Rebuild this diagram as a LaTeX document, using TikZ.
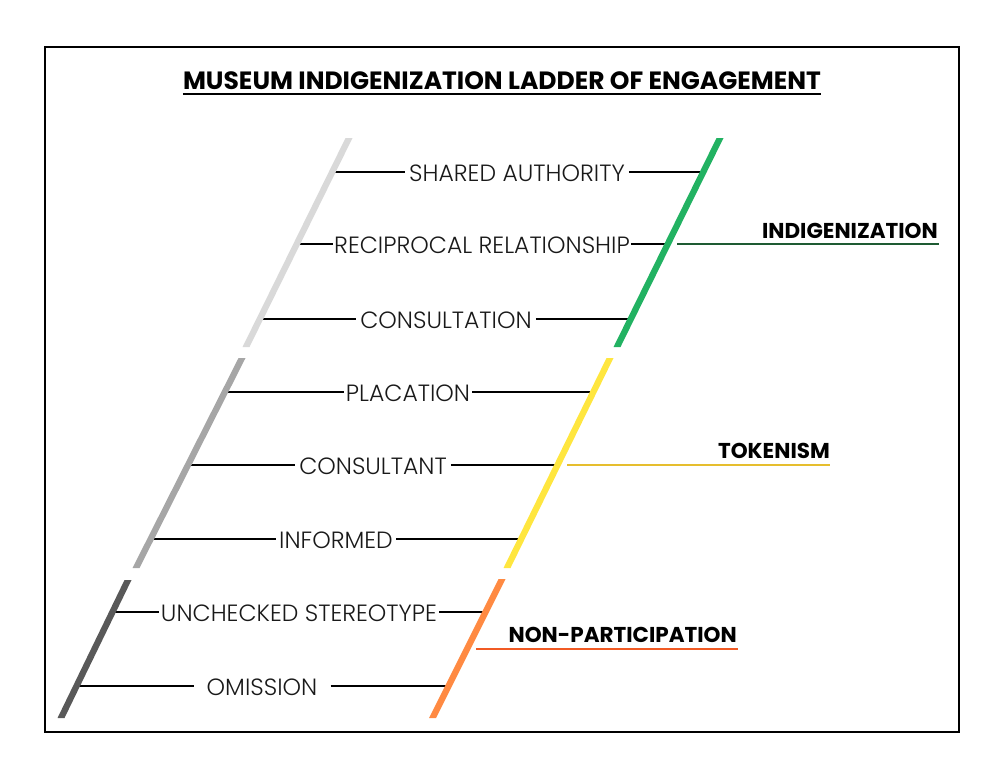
\documentclass[tikz,border=0pt]{standalone}
\usepackage{fontspec}
\setmainfont{Poppins}
\newfontfamily\thinfont{Poppins Light}

\definecolor{lightrail}{HTML}{D9D9D9}
\definecolor{midrail}{HTML}{A6A6A6}
\definecolor{darkrail}{HTML}{595959}
\definecolor{greenrail}{HTML}{22B262}
\definecolor{yellowrail}{HTML}{FFE63F}
\definecolor{orangerail}{HTML}{FF8A42}
\definecolor{indigline}{HTML}{1E5B32}
\definecolor{tokenline}{HTML}{E6BE2E}
\definecolor{nonpartline}{HTML}{F15A24}

\tikzset{
  rung/.style={line width=2pt, black},
  rungtext/.style={font=\thinfont\fontsize{23.5}{25}\selectfont, text=black!90, inner sep=4pt},
  level/.style={font=\bfseries\fontsize{21.5}{24}\selectfont, anchor=base east, inner sep=0pt},
  levelline/.style={line width=2.5pt},
}

\begin{document}
\begin{tikzpicture}[x=1pt,y=-1pt]
    \useasboundingbox (0,0) rectangle (1000,769);
    \draw[line width=2pt] (45,47) rectangle (959,732);

    \node[font=\bfseries\fontsize{25}{27}\selectfont, anchor=base, inner sep=0pt] (title) at (502,89) {MUSEUM INDIGENIZATION LADDER OF ENGAGEMENT};
    \draw[line width=2pt] ([yshift=-5pt]title.base west) -- ([yshift=-5pt]title.base east);

    % rail points, one pair per rung
    \coordinate (l1) at (332,172);   \coordinate (r1) at (703,172);
    \coordinate (l2) at (297,244);   \coordinate (r2) at (668,244);
    \coordinate (l3) at (260,319);   \coordinate (r3) at (631,319);
    \coordinate (l4) at (225,392);   \coordinate (r4) at (593,392);
    \coordinate (l5) at (188,465);   \coordinate (r5) at (557,465);
    \coordinate (l6) at (151,539);   \coordinate (r6) at (521,539);
    \coordinate (l7) at (112,612);   \coordinate (r7) at (486,612);
    \coordinate (l8) at (76,686);    \coordinate (r8) at (449,686);

    \node[rungtext] (t1) at (517,173) {SHARED AUTHORITY};
    \node[rungtext, inner sep=1pt] (t2) at (482,245) {RECIPROCAL RELATIONSHIP};
    \node[rungtext] (t3) at (446,320) {CONSULTATION};
    \node[rungtext, inner sep=2pt] (t4) at (408,393) {PLACATION};
    \node[rungtext] (t5) at (373,466) {CONSULTANT};
    \node[rungtext, inner sep=3pt] (t6) at (336,540) {INFORMED};
    \node[rungtext, inner sep=2pt] (t7) at (299,613) {UNCHECKED STEREOTYPE};
    \node[rungtext, inner sep=13pt] (t8) at (262,687) {OMISSION};

    \draw[rung] (l1) -- (t1.west |- l1);  \draw[rung] (t1.east |- r1) -- (r1);
    \draw[rung] (l2) -- (t2.west |- l2);  \draw[rung] (t2.east |- r2) -- (r2);
    \draw[rung] (l3) -- (t3.west |- l3);  \draw[rung] (t3.east |- r3) -- (r3);
    \draw[rung] (l4) -- (t4.west |- l4);  \draw[rung] (t4.east |- r4) -- (r4);
    \draw[rung] (l5) -- (t5.west |- l5);  \draw[rung] (t5.east |- r5) -- (r5);
    \draw[rung] (l6) -- (t6.west |- l6);  \draw[rung] (t6.east |- r6) -- (r6);
    \draw[rung] (l7) -- (t7.west |- l7);  \draw[rung] (t7.east |- r7) -- (r7);
    \draw[rung] (l8) -- (t8.west |- l8);  \draw[rung] (t8.east |- r8) -- (r8);

    % rails
    \fill[lightrail] (345.5,138) -- (352.5,138) -- (249.5,347) -- (242.5,347) -- cycle;
    \fill[midrail] (238.5,358) -- (245.5,358) -- (139.5,568) -- (132.5,568) -- cycle;
    \fill[darkrail] (124.5,580) -- (131.5,580) -- (64.5,718) -- (57.5,718) -- cycle;
    \fill[greenrail] (716.5,138) -- (723.5,138) -- (620.5,347) -- (613.5,347) -- cycle;
    \fill[yellowrail] (606.5,358) -- (613.5,358) -- (510.5,568) -- (503.5,568) -- cycle;
    \fill[orangerail] (498.5,579) -- (505.5,579) -- (436,718) -- (429,718) -- cycle;

    % levels
    \coordinate (indigA) at (677,244);  \coordinate (indigB) at (939,244);
    \coordinate (tokenA) at (567,465);  \coordinate (tokenB) at (830,465);
    \coordinate (nonpartA) at (476,649);  \coordinate (nonpartB) at (738,649);
    \draw[levelline, indigline] (indigA) -- (indigB);
    \draw[levelline, tokenline] (tokenA) -- (tokenB);
    \draw[levelline, nonpartline] (nonpartA) -- (nonpartB);
    \node[level] (indig) at (938,238) {INDIGENIZATION};
    \node[level] (token) at (830,458) {TOKENISM};
    \node[level] (nonpart) at (737,642) {NON-PARTICIPATION};
\end{tikzpicture}
\end{document}
